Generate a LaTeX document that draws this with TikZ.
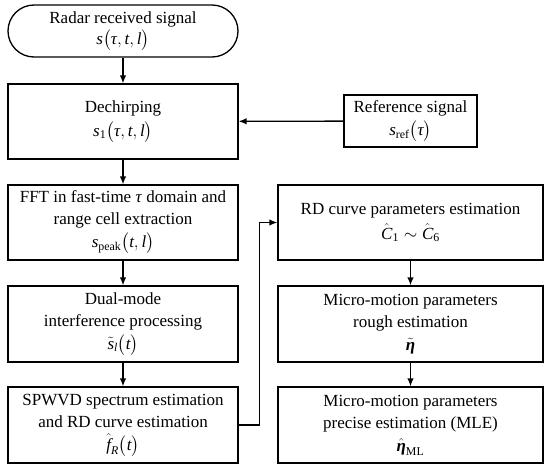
\documentclass[tikz,border=0pt]{standalone}
\usepackage{amsmath}
\usepackage{fontspec}
\setmainfont{Liberation Serif}
\usetikzlibrary{arrows.meta}
\newcommand{\vi}[1]{\text{\itshape #1}}
\newcommand{\vb}[1]{\text{\bfseries\itshape #1}}
\newcommand{\vu}[1]{\text{#1}}
\tikzset{
  box/.style={draw, line width=1.3pt, rectangle, align=center, inner sep=0pt,
    font=\fontsize{17}{22}\selectfont},
  lbox/.style={box, minimum width=230pt, minimum height=75pt},
  rbox/.style={box, minimum width=265pt, minimum height=75pt},
  term/.style={box, rounded corners=26pt, minimum width=230pt, minimum height=52pt},
  arr/.style={line width=1.3pt, -{Latex[length=8pt,width=6.5pt]}}
}
\begin{document}
\begin{tikzpicture}[x=1pt,y=-1pt]
\useasboundingbox (0,0) rectangle (550,471);
\node[term] (start) at (123,31) {Radar received signal\\[-1pt] $\vi{s}\bigl(\vi{τ},\vi{t},\vi{l}\bigr)$};
\node[lbox] (dech) at (123,121.5) {Dechirping\\[2pt] $\vi{s}_{\vu{1}}\bigl(\vi{τ},\vi{t},\vi{l}\bigr)$};
\node[box, minimum width=133pt, minimum height=52pt] (ref) at (410.5,121) {Reference signal\\[1pt] $\vi{s}_{\vu{ref}}\bigl(\vi{τ}\bigr)$};
\node[lbox] (fft) at (123,222.5) {FFT in fast-time \textit{τ} domain and\\ range cell extraction\\[1pt] $\vi{s}_{\vu{peak}}\bigl(\vi{t},\vi{l}\bigr)$};
\node[lbox, minimum height=76pt] (dual) at (123,324) {Dual-mode\\ interference processing\\[1pt] $\tilde{\vi{s}}_{\vi{l}}\bigl(\vi{t}\bigr)$};
\node[lbox, minimum height=76pt] (spwvd) at (123,425) {SPWVD spectrum estimation\\ and RD curve estimation\\[1pt] $\hat{\vi{f}}_{\vi{R}}\bigl(\vi{t}\bigr)$};
\node[rbox] (rd) at (410.5,222.5) {RD curve parameters estimation\\[3pt] $\hat{\vi{C}}_{\vu{1}}\sim\hat{\vi{C}}_{\vu{6}}$};
\node[rbox, minimum height=76pt] (rough) at (410.5,324) {Micro-motion parameters\\ rough estimation\\[1pt] $\tilde{\vb{η}}$};
\node[rbox, minimum height=76pt] (prec) at (410.5,425) {Micro-motion parameters\\ precise estimation (MLE)\\[1pt] $\hat{\vb{η}}_{\vu{ML}}$};
\draw[arr] (start) -- (dech);
\draw[arr] (ref) -- (dech);
\draw[arr] (dech) -- (fft);
\draw[arr] (fft) -- (dual);
\draw[arr] (dual) -- (spwvd);
\draw[arr] (spwvd.east) -- ++(21,0) |- (rd.west);
\draw[arr] (rd) -- (rough);
\draw[arr] (rough) -- (prec);
\end{tikzpicture}
\end{document}
